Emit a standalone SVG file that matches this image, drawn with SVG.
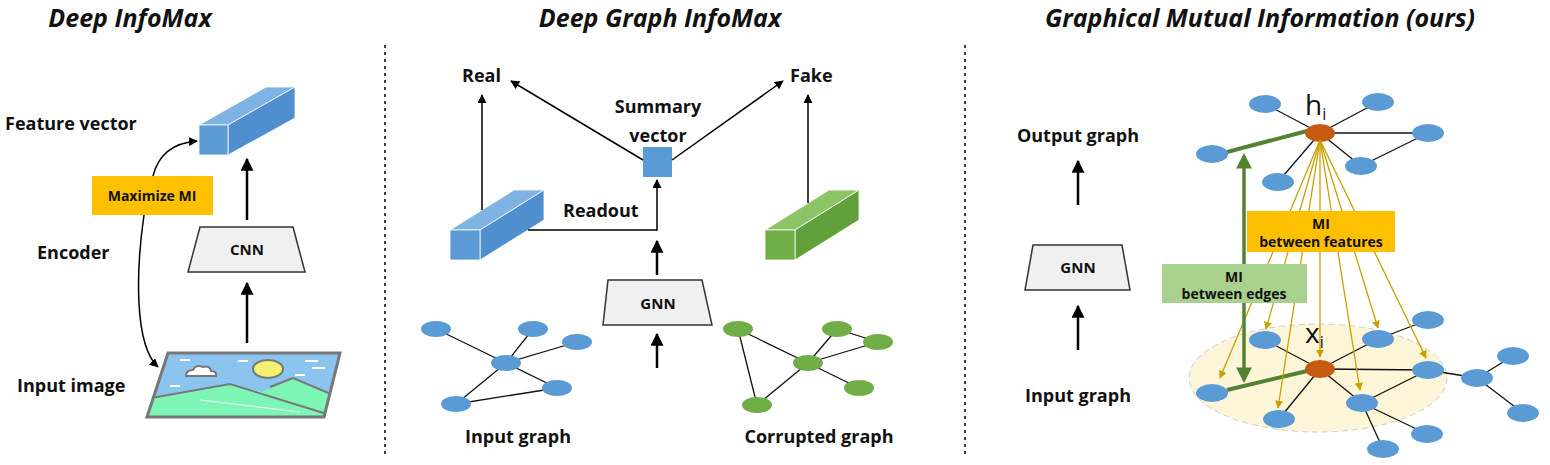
<svg xmlns="http://www.w3.org/2000/svg" width="1550" height="465" viewBox="0 0 1550 465">
<defs>
<marker id="ah" viewBox="0 0 10 10" refX="9" refY="5" markerWidth="9" markerHeight="9" markerUnits="userSpaceOnUse" orient="auto"><path d="M0,0L10,5L0,10z" fill="#000"/></marker>
<marker id="ahb" viewBox="0 0 10 10" refX="9" refY="5" markerWidth="13" markerHeight="13" markerUnits="userSpaceOnUse" orient="auto"><path d="M0,0L10,5L0,10z" fill="#000"/></marker>
<marker id="ahy" viewBox="0 0 10 10" refX="9" refY="5" markerWidth="8" markerHeight="8" markerUnits="userSpaceOnUse" orient="auto"><path d="M0,0L10,5L0,10z" fill="#C9A000"/></marker>
<marker id="ahg" viewBox="0 0 10 10" refX="8" refY="5" markerWidth="4.5" markerHeight="4.5" orient="auto-start-reverse"><path d="M0,0L10,5L0,10z" fill="#548235"/></marker>
<clipPath id="imgclip"><polygon points="168,353 340,353 324,417 147,417"/></clipPath>
</defs>
<style>
text{font-family:"Open Sans","Liberation Sans",sans-serif;font-weight:bold;fill:#111}
.t{font-size:25px;font-style:italic}
.l{font-size:18px}
.s{font-size:14px}
.n{fill:#5B9BD5}
.g{fill:#70AD47}
.e{stroke:#111;stroke-width:1.3;fill:none}
.a{stroke:#000;stroke-width:1.5;fill:none;marker-end:url(#ah)}
.ab{stroke:#000;stroke-width:2.5;fill:none;marker-end:url(#ahb)}
.y{stroke:#C9A000;stroke-width:1.3;fill:none;marker-end:url(#ahy)}
.tr{fill:#F0F0F0;stroke:#333;stroke-width:1.5}
.sep{stroke:#000;stroke-width:1.5;stroke-dasharray:3,4}
</style>
<g id="titles">
<text class="t" x="130" y="27" text-anchor="middle">Deep InfoMax</text>
<text class="t" x="660" y="27" text-anchor="middle">Deep Graph InfoMax</text>
<text class="t" x="1260" y="27" text-anchor="middle">Graphical Mutual Information (ours)</text>
</g>
<line class="sep" x1="385" y1="45" x2="385" y2="455"/>
<line class="sep" x1="965" y1="45" x2="965" y2="455"/>

<g id="feature-vector">
<polygon points="199,125 228,125 295,87 266,87" fill="#7FB3E3" stroke="#fff" stroke-width="0.8"/>
<polygon points="228,125 295,87 295,118 228,155" fill="#4F8FCF" stroke="#fff" stroke-width="0.8"/>
<rect x="199" y="125" width="29" height="30" fill="#5B9BD5" stroke="#fff" stroke-width="0.8"/>
<text class="l" x="5" y="130">Feature vector</text>
</g>
<g id="cnn">
<polygon class="tr" points="200,227 293,227 305,272 188,272"/>
<text x="247" y="255" text-anchor="middle" style="font-size:15px">CNN</text>
</g>
<g id="encoder-label"><text class="l" x="37" y="259">Encoder</text></g>
<g id="input-image">
<polygon points="168,353 340,353 324,417 147,417" fill="#8CC4F0"/>
<g clip-path="url(#imgclip)">
<polygon points="140,400 230,384 262,392 293,378 345,400 345,420 140,420" fill="#7CF5B5"/>
<polyline points="140,400 230,384 330,415" stroke="#777" stroke-width="2" fill="none"/>
<polyline points="270,387 293,378 345,400" stroke="#777" stroke-width="2" fill="none"/>
<line x1="200" y1="400" x2="300" y2="412" stroke="#fff" stroke-width="1"/>
</g>
<polygon points="168,353 340,353 324,417 147,417" fill="none" stroke="#777" stroke-width="3"/>
<ellipse cx="268" cy="369" rx="15" ry="9" fill="#F5F070" stroke="#777" stroke-width="2"/>
<path d="M186,376 q0,-6 7,-6 q3,-6 10,-3 q7,-2 8,4 q6,0 5,5 z" fill="#fff" stroke="#777" stroke-width="2"/>
<g stroke="#fff" stroke-width="2"><line x1="180" y1="360" x2="190" y2="360"/><line x1="238" y1="361" x2="248" y2="361"/><line x1="305" y1="361" x2="318" y2="361"/><line x1="312" y1="368" x2="325" y2="368"/><line x1="295" y1="375" x2="305" y2="375"/><line x1="170" y1="386" x2="180" y2="386"/></g>
<text class="l" x="17" y="392">Input image</text>
</g>
<g id="maximize-mi">
<rect x="92" y="176" width="121" height="39" fill="#FFC000"/>
<text class="s" x="152" y="201" text-anchor="middle">Maximize MI</text>
</g>
<g id="left-connectors">
<line class="ab" x1="247" y1="220" x2="247" y2="159"/>
<line class="ab" x1="247" y1="343" x2="247" y2="283"/>
<path class="a" d="M153,176 C158,156 172,143 197,141"/>
<path class="a" d="M144,215 C136,270 134,345 158,367"/>
</g>

<g id="real-cuboid">
<polygon points="450,230 480,230 544,190 514,190" fill="#7FB3E3" stroke="#fff" stroke-width="0.8"/>
<polygon points="480,230 544,190 544,220 480,260" fill="#4F8FCF" stroke="#fff" stroke-width="0.8"/>
<rect x="450" y="230" width="30" height="30" fill="#5B9BD5" stroke="#fff" stroke-width="0.8"/>
</g>
<g id="fake-cuboid">
<polygon points="765,230 795,230 859,190 829,190" fill="#8CC466" stroke="#fff" stroke-width="0.8"/>
<polygon points="795,230 859,190 859,220 795,260" fill="#62A03C" stroke="#fff" stroke-width="0.8"/>
<rect x="765" y="230" width="30" height="30" fill="#70AD47" stroke="#fff" stroke-width="0.8"/>
</g>
<g id="summary-vector">
<rect x="643" y="147" width="29" height="30" fill="#5B9BD5"/>
<text class="l" x="658" y="113" text-anchor="middle">Summary</text>
<text class="l" x="658" y="142" text-anchor="middle">vector</text>
</g>
<g id="labels-mid">
<text class="l" x="462" y="82">Real</text>
<text class="l" x="790" y="82">Fake</text>
<text class="l" x="563" y="217">Readout</text>
</g>
<g id="gnn-mid">
<polygon class="tr" points="608,280 702,280 712,325 603,325"/>
<text x="658" y="309" text-anchor="middle" style="font-size:15px">GNN</text>
</g>
<g id="input-graph-mid">
<g class="e"><line x1="436" y1="329" x2="506" y2="363"/><line x1="533" y1="329" x2="506" y2="363"/><line x1="577" y1="342" x2="506" y2="363"/><line x1="506" y1="363" x2="456" y2="404"/><line x1="506" y1="363" x2="557" y2="388"/><line x1="456" y1="404" x2="557" y2="388"/></g>
<g class="n"><ellipse cx="436" cy="329" rx="15" ry="8"/><ellipse cx="533" cy="329" rx="15" ry="8"/><ellipse cx="577" cy="342" rx="15" ry="8"/><ellipse cx="506" cy="363" rx="15" ry="8"/><ellipse cx="557" cy="388" rx="15" ry="8"/><ellipse cx="456" cy="404" rx="15" ry="8"/></g>
<text class="l" x="518" y="443" text-anchor="middle">Input graph</text>
</g>
<g id="corrupted-graph">
<g class="e"><line x1="738" y1="329" x2="808" y2="363"/><line x1="738" y1="329" x2="757" y2="405"/><line x1="757" y1="405" x2="808" y2="363"/><line x1="808" y1="363" x2="837" y2="329"/><line x1="808" y1="363" x2="878" y2="342"/><line x1="837" y1="329" x2="878" y2="342"/><line x1="808" y1="363" x2="859" y2="388"/></g>
<g class="g"><ellipse cx="738" cy="329" rx="15" ry="8"/><ellipse cx="837" cy="329" rx="15" ry="8"/><ellipse cx="878" cy="342" rx="15" ry="8"/><ellipse cx="808" cy="363" rx="15" ry="8"/><ellipse cx="859" cy="388" rx="15" ry="8"/><ellipse cx="757" cy="405" rx="15" ry="8"/></g>
<text class="l" x="819" y="443" text-anchor="middle">Corrupted graph</text>
</g>
<g id="mid-connectors">
<line class="a" x1="482" y1="210" x2="482" y2="95"/>
<line class="a" x1="808" y1="203" x2="808" y2="95"/>
<line class="a" x1="643" y1="160" x2="511" y2="81"/>
<line class="a" x1="672" y1="160" x2="783" y2="81"/>
<polyline class="a" points="528,230 657,230 657,180"/>
<line class="ab" x1="657" y1="275" x2="657" y2="241"/>
<line class="ab" x1="657" y1="368" x2="657" y2="334"/>
</g>

<g id="right-left">
<text class="l" x="1078" y="142" text-anchor="middle">Output graph</text>
<polygon class="tr" points="1033,245 1122,245 1130,290 1025,290"/>
<text x="1078" y="273" text-anchor="middle" style="font-size:15px">GNN</text>
<text class="l" x="1078" y="402" text-anchor="middle">Input graph</text>
<line class="ab" x1="1078" y1="205" x2="1078" y2="161"/>
<line class="ab" x1="1078" y1="350" x2="1078" y2="306"/>
</g>
<g id="plane"><ellipse cx="1318" cy="378" rx="129" ry="54" fill="#FDF5D8" stroke="#ccc" stroke-dasharray="6,4"/></g>
<g id="output-graph">
<g class="e"><line x1="1320" y1="133" x2="1265" y2="104"/><line x1="1320" y1="133" x2="1378" y2="102"/><line x1="1320" y1="133" x2="1428" y2="133"/><line x1="1320" y1="133" x2="1361" y2="166"/><line x1="1361" y1="166" x2="1428" y2="133"/><line x1="1320" y1="133" x2="1278" y2="182"/></g>
<line x1="1227" y1="152" x2="1307" y2="131" stroke="#548235" stroke-width="4"/>
<g class="n"><ellipse cx="1265" cy="104" rx="16" ry="9"/><ellipse cx="1378" cy="102" rx="16" ry="9"/><ellipse cx="1428" cy="133" rx="16" ry="9"/><ellipse cx="1361" cy="166" rx="16" ry="9"/><ellipse cx="1278" cy="182" rx="16" ry="9"/><ellipse cx="1212" cy="154" rx="16" ry="9"/></g>
<ellipse cx="1320" cy="133" rx="15" ry="9" fill="#C55A11"/>
<text x="1305" y="115" style="font-size:28px;font-weight:normal">h<tspan style="font-size:16px" dy="5">i</tspan></text>
</g>
<g id="input-graph-right">
<g class="e"><line x1="1320" y1="369" x2="1265" y2="340"/><line x1="1320" y1="369" x2="1378" y2="339"/><line x1="1378" y1="339" x2="1428" y2="320"/><line x1="1320" y1="369" x2="1428" y2="370"/><line x1="1320" y1="369" x2="1362" y2="403"/><line x1="1362" y1="403" x2="1428" y2="370"/><line x1="1320" y1="369" x2="1279" y2="419"/><line x1="1428" y1="370" x2="1477" y2="378"/><line x1="1477" y1="378" x2="1513" y2="356"/><line x1="1477" y1="378" x2="1523" y2="413"/><line x1="1362" y1="403" x2="1427" y2="434"/><line x1="1362" y1="403" x2="1383" y2="449"/></g>
<line x1="1227" y1="390" x2="1307" y2="371" stroke="#548235" stroke-width="4"/>
<g class="n"><ellipse cx="1265" cy="340" rx="16" ry="9"/><ellipse cx="1378" cy="339" rx="16" ry="9"/><ellipse cx="1428" cy="320" rx="16" ry="9"/><ellipse cx="1428" cy="370" rx="16" ry="9"/><ellipse cx="1362" cy="403" rx="16" ry="9"/><ellipse cx="1279" cy="419" rx="16" ry="9"/><ellipse cx="1212" cy="393" rx="16" ry="9"/><ellipse cx="1477" cy="378" rx="16" ry="9"/><ellipse cx="1513" cy="356" rx="16" ry="9"/><ellipse cx="1523" cy="413" rx="16" ry="9"/><ellipse cx="1427" cy="434" rx="16" ry="9"/><ellipse cx="1383" cy="449" rx="16" ry="9"/></g>
<ellipse cx="1320" cy="369" rx="15" ry="9" fill="#C55A11"/>
<text x="1305" y="343" style="font-size:28px;font-weight:normal">x<tspan style="font-size:16px" dy="5">i</tspan></text>
</g>
<g id="mi-arrows">
<line class="y" x1="1320" y1="140" x2="1220" y2="378"/>
<line class="y" x1="1320" y1="140" x2="1266" y2="329"/>
<line class="y" x1="1320" y1="140" x2="1278" y2="408"/>
<line class="y" x1="1320" y1="140" x2="1320" y2="357"/>
<line class="y" x1="1320" y1="140" x2="1360" y2="390"/>
<line class="y" x1="1320" y1="140" x2="1378" y2="328"/>
<line class="y" x1="1320" y1="140" x2="1426" y2="358"/>
<line x1="1244" y1="156" x2="1244" y2="380" stroke="#548235" stroke-width="3.5" marker-start="url(#ahg)" marker-end="url(#ahg)"/>
</g>
<g id="mi-features">
<rect x="1247" y="211" width="148" height="41" fill="#FFC000"/>
<text class="s" x="1321" y="229" text-anchor="middle">MI</text>
<text class="s" x="1321" y="247" text-anchor="middle">between features</text>
</g>
<g id="mi-edges">
<rect x="1162" y="264" width="145" height="39" fill="#A9D18E"/>
<text class="s" x="1234" y="282" text-anchor="middle">MI</text>
<text class="s" x="1234" y="299" text-anchor="middle">between edges</text>
</g>
</svg>
